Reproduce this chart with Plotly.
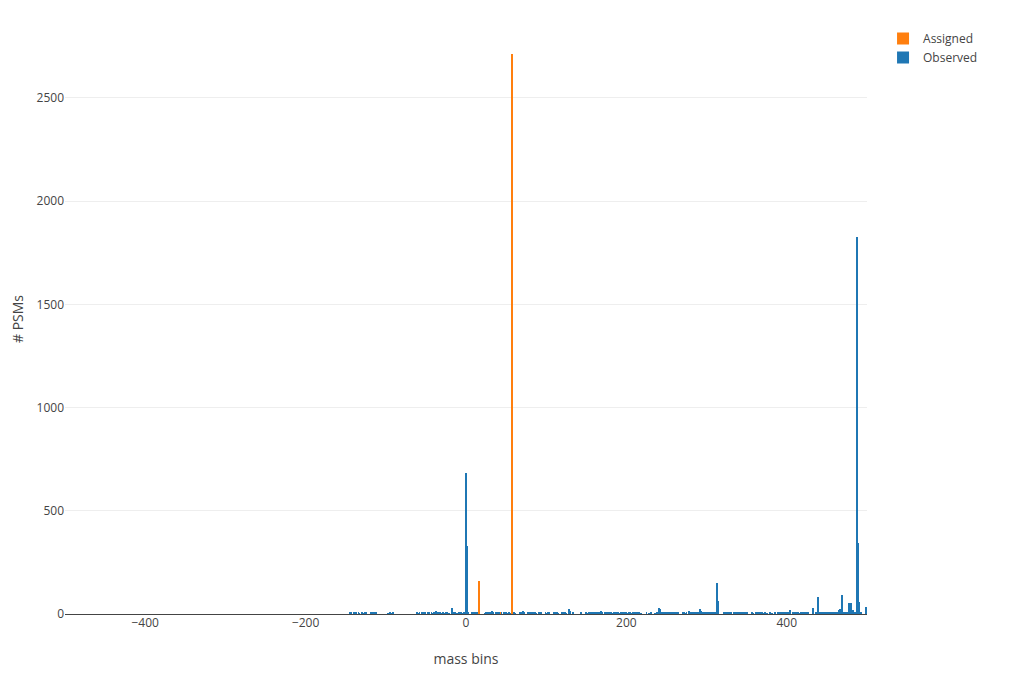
import plotly.graph_objects as go

# Observed PSMs per mass bin
obs_bins = [
    -145, -144, -143, -140, -139, -137, -134, -133, -130, -129, -128, -126, -125, -124,
    -118, -117, -116, -115, -113, -112, -97, -95, -93, -91,
    -61, -60, -58, -55, -54, -52, -51, -48, -47, -46, -43, -42, -40,
    -37, -36, -35, -34, -32, -31, -29, -28, -26, -25, -23, -21,
    -17, -16, -15, -13, -11, -9, -8, -6, -5, -3, -2, -1, 0, 1, 2, 3,
    7, 8, 10, 11, 14, 15, 23, 25, 26, 28, 29, 30, 32, 34, 37, 39, 40,
    42, 43, 44, 47, 48, 50, 51, 53, 54, 55, 57, 59, 60, 61, 67, 68,
    70, 71, 72, 73, 77, 78, 80, 81, 83, 84, 86, 87, 91, 93, 94,
    99, 100, 102, 103, 104, 110, 111, 113, 114, 115, 119, 120, 122, 123, 124, 125,
    128, 129, 130, 133, 143, 144, 150, 152, 153, 155, 156,
    158, 159, 160, 161, 162, 164, 166, 168, 169, 170, 173, 175, 176, 178,
    180, 181, 183, 185, 186, 187, 190, 191, 193, 194, 196, 197, 198,
    200, 201, 203, 204, 206, 208, 209, 211, 212, 213, 214, 216, 218,
    225, 228, 231, 236, 238, 239, 241, 242, 243, 246, 247, 249, 250,
    252, 254, 255, 257, 258, 259, 261, 262, 263, 264, 265, 270, 272, 274, 275,
    278, 279, 281, 283, 284, 285, 286, 287, 288, 289, 292, 293, 294, 295, 296,
    298, 299, 302, 303, 305, 307, 308, 310, 311, 312, 313, 314,
    321, 322, 324, 325, 326, 327, 329, 330, 334, 335, 337, 338, 340, 341, 343, 345,
    347, 348, 349, 351, 357, 358, 361, 363, 364, 366, 367, 369, 370, 373, 375,
    379, 382, 385, 389, 390, 392, 393, 395, 396, 397, 399, 400, 401, 402, 403, 404,
    407, 408, 410, 411, 412, 414, 415, 417, 418, 420, 421, 423, 424, 426,
    433, 436, 437, 438, 439, 440, 441, 442, 444, 445, 447, 448, 450, 451, 453, 454, 455,
    457, 458, 460, 461, 463, 465, 466, 467, 469, 470, 471, 472, 474, 475, 477,
    478, 479, 480, 481, 483, 484, 486, 488, 489, 490, 492, 493, 498, 499, 500,
]
obs_counts = [
    5, 4, 6, 5, 4, 6, 5, 4, 6, 5, 4, 5, 6, 4,
    5, 6, 5, 7, 10, 5, 4, 5, 4, 5,
    6, 4, 5, 5, 6, 4, 5, 6, 12, 5, 6, 4, 7,
    13, 6, 5, 6, 5, 4, 6, 5, 4, 6, 5, 4,
    31, 7, 6, 5, 4, 6, 4, 5, 4, 7, 6, 10, 685, 330, 12, 6,
    9, 6, 8, 5, 7, 6, 4, 5, 6, 5, 6, 5, 13, 5, 5, 4, 6,
    11, 10, 8, 5, 6, 5, 4, 6, 5, 4, 6, 5, 7, 4, 5, 6,
    9, 13, 12, 8, 5, 4, 6, 5, 5, 6, 5, 4, 5, 4, 6,
    5, 4, 6, 5, 4, 5, 6, 5, 6, 4, 5, 6, 5, 6, 5, 4,
    26, 9, 16, 5, 6, 5, 5, 4, 6, 5, 6,
    11, 12, 11, 12, 10, 6, 5, 13, 6, 5, 11, 5, 6, 5,
    5, 6, 4, 11, 10, 6, 5, 4, 6, 5, 6, 5, 6,
    5, 4, 6, 5, 4, 5, 6, 12, 7, 5, 6, 5, 4,
    5, 4, 5, 4, 5, 6, 31, 24, 10, 6, 5, 6, 4,
    5, 6, 5, 6, 5, 4, 6, 5, 6, 5, 4, 5, 6, 4, 5,
    13, 12, 5, 5, 6, 5, 6, 5, 4, 5, 26, 14, 8, 6, 5,
    6, 5, 11, 5, 6, 5, 6, 5, 6, 8, 150, 63,
    5, 6, 5, 6, 11, 5, 6, 5, 5, 4, 6, 5, 6, 4, 5, 6,
    11, 10, 6, 5, 5, 4, 6, 5, 6, 11, 5, 6, 4, 5, 4,
    5, 4, 11, 5, 6, 5, 7, 6, 11, 7, 6, 8, 5, 6, 7, 21,
    5, 6, 5, 6, 5, 6, 4, 5, 6, 5, 6, 5, 11, 5,
    31, 8, 10, 8, 84, 9, 10, 8, 6, 7, 6, 5, 6, 5, 6, 5, 6,
    10, 9, 8, 7, 10, 20, 26, 9, 94, 10, 9, 10, 9, 8, 10,
    53, 55, 53, 10, 21, 8, 5, 1825, 345, 60, 10, 8, 35, 33, 34,
]

# Assigned PSMs per mass bin
assigned_bins = [16, 43, 57]
assigned_counts = [160, 10, 2715]

BLUE = "#1f77b4"
ORANGE = "#ff7f0e"

fig = go.Figure()
fig.add_trace(go.Bar(
    x=obs_bins, y=obs_counts, name="Observed",
    marker=dict(color=BLUE, line=dict(width=0)), width=1,
))
fig.add_trace(go.Bar(
    x=assigned_bins, y=assigned_counts, name="Assigned",
    marker=dict(color=ORANGE, line=dict(width=0)), width=1.2,
))

fig.update_layout(
    template="none",
    barmode="overlay",
    bargap=0,
    font=dict(family="Open Sans, Verdana, Arial, sans-serif", size=12, color="#444"),
    margin=dict(l=57, r=151, t=16, b=54),
    plot_bgcolor="white",
    paper_bgcolor="white",
    legend=dict(traceorder="reversed"),
    xaxis=dict(
        title=dict(text="mass bins"),
        range=[-500, 500],
        showgrid=False,
        zeroline=False,
        showline=False,
    ),
    yaxis=dict(
        title=dict(text="# PSMs", standoff=19),
        showgrid=True,
        gridcolor="#eee",
        zeroline=True,
        zerolinecolor="#444",
        zerolinewidth=1,
    ),
)

fig.write_html("out.html")
